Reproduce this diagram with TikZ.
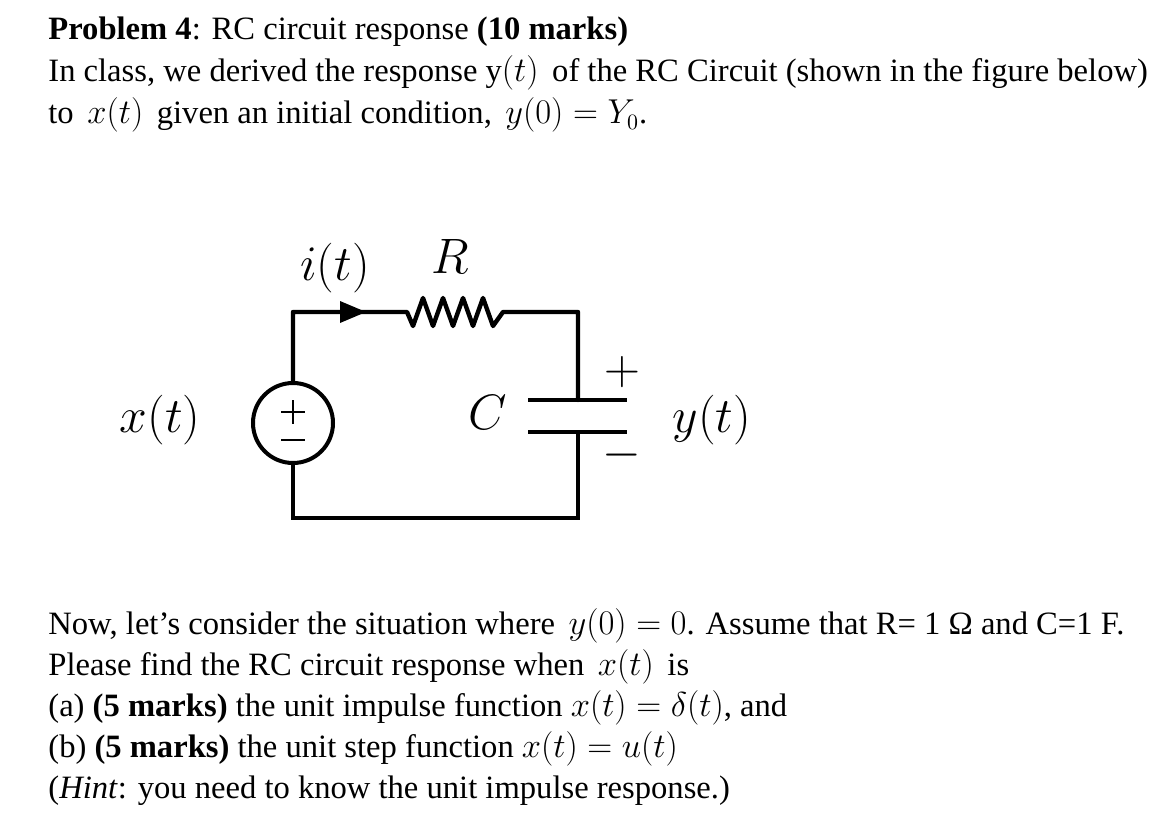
\documentclass[tikz,border=0pt]{standalone}
\usepackage{fontspec}
\setmainfont{Liberation Serif}
\begin{document}
\begin{tikzpicture}[x=0.5pt,y=-0.5pt,
  txt/.style={anchor=base west,inner sep=0,font=\fontsize{16.3}{20}\selectfont},
  lbl/.style={inner sep=0,font=\fontsize{23}{26}\selectfont},
  wire/.style={line width=2.2pt}]
\useasboundingbox (0,0) rectangle (1174,840);
\node[txt] (l1) at (48,40) {\textbf{Problem 4}: RC circuit response \textbf{(10 marks)}};
\node[txt] (l2) at (48,82) {In class, we derived the response y$(t)$\, of the RC Circuit (shown in the figure below)};
\node[txt] (l3) at (48,124) {to\, $x(t)$\, given an initial condition,\, $y(0)=Y_0$.};
\node[txt] (l4) at (48,634) {Now, let’s consider the situation where\, $y(0)=0$. Assume that R= 1 Ω and C=1 F.};
\node[txt] (l5) at (48,675) {Please find the RC circuit response when\, $x(t)$\, is};
\node[txt] (l6) at (48,716) {(a) \textbf{(5 marks)} the unit impulse function $x(t)=\delta(t)$, and};
\node[txt] (l7) at (48,757) {(b) \textbf{(5 marks)} the unit step function $x(t)=u(t)$};
\node[txt] (l8) at (48,798) {(\textit{Hint}: you need to know the unit impulse response.)};
% circuit
\coordinate (tl) at (293,312); \coordinate (tr) at (578,312);
\coordinate (bl) at (293,518); \coordinate (br) at (578,518);
\coordinate (r1) at (407,312); \coordinate (r2) at (503,312);
\coordinate (ct) at (578,400); \coordinate (cb) at (578,432);
\node[draw,circle,line width=2pt,minimum size=40pt,inner sep=0] (src) at (293,423) {};
\draw[line width=1.2pt] (281,412)--(305,412) (293,400)--(293,424) (281,440)--(305,440);
\draw[wire,line cap=round,line join=round] (src.north)--(tl)--(r1)--++(6,14)--++(10,-28)--++(10,28)--++(10,-28)--++(10,28)--++(10,-28)--++(10,28)--++(10,-28)--++(10,28)--(r2)--(tr)--(ct);
\draw[wire] (cb)--(br)--(bl)--(src.south);
\draw[wire] (528,400)--(627,400) (528,432)--(627,432);
\fill (340,301)--(366,312)--(340,323)--cycle;
\node[lbl] (it) at (335,268) {$i(t)$};
\node[lbl] (R) at (450,256) {$R$};
\node[lbl] (C) at (488,412) {$C$};
\node[lbl] (pl) at (622,372) {$+$};
\node[lbl] (mi) at (622,455) {$-$};
\node[lbl,font=\fontsize{25}{28}\selectfont] (y) at (712,420) {$y(t)$};
\node[lbl,font=\fontsize{25}{28}\selectfont] (x) at (160,420) {$x(t)$};
\end{tikzpicture}
\end{document}
